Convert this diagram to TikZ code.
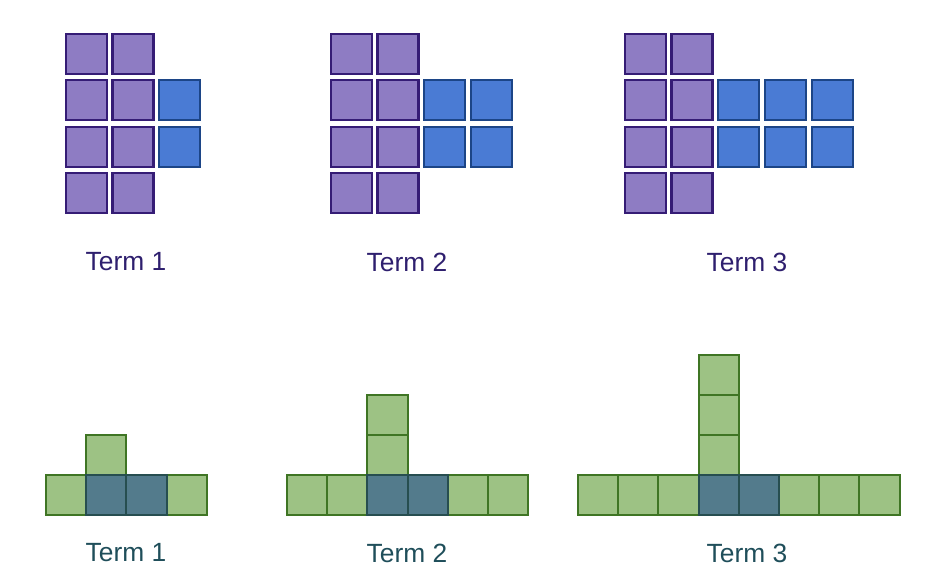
\documentclass[tikz,border=0pt]{standalone}
\usepackage{fontspec}
\setmainfont{Liberation Sans}
\definecolor{purplefill}{HTML}{8E7CC3}
\definecolor{purpleline}{HTML}{351C75}
\definecolor{bluefill}{HTML}{4A7BD4}
\definecolor{blueline}{HTML}{1C4587}
\definecolor{greenfill}{HTML}{9DC284}
\definecolor{greenline}{HTML}{3F7524}
\definecolor{tealfill}{HTML}{537B8C}
\definecolor{tealline}{HTML}{274E50}
\definecolor{toplabel}{HTML}{2E1F6E}
\definecolor{botlabel}{HTML}{1F4E5A}
\begin{document}
\begin{tikzpicture}[x=0.02cm,y=-0.02cm]
	\tikzstyle{purple} = [fill=purplefill, draw=purpleline, line width=1.2pt]
	\tikzstyle{blue} = [fill=bluefill, draw=blueline, line width=1.2pt]
	\tikzstyle{green} = [fill=greenfill, draw=greenline, line width=1.2pt]
	\tikzstyle{teal} = [fill=tealfill, draw=tealline, line width=1.2pt]
	\tikzstyle{Label} = [font=\fontsize{15}{18}\selectfont]
	\useasboundingbox (0,0) rectangle (945,585);
	
	% top patterns
	\foreach \x/\n in {66/1, 331/2, 625/3} {
		\foreach \i in {0,1} \foreach \j in {0,...,3}
			\draw [purple] (\x+46.5*\i, 34+46.3*\j) rectangle ++(41,40);
		\foreach \i in {1,...,\n} \foreach \j in {1,2}
			\draw [blue] (\x+46.5+46.7*\i, 34+46.3*\j) rectangle ++(41,40);
	}
	\node (t1) [Label, text=toplabel] at (126,262) {Term 1};
	\node (t2) [Label, text=toplabel] at (407,262) {Term 2};
	\node (t3) [Label, text=toplabel] at (747,262) {Term 3};
	
	% bottom patterns
	\foreach \x/\n in {46/1, 287/2, 578/3} {
		\foreach \i in {1,...,\n} {
			\draw [green] (\x+40.2*\i-40.2, 475) rectangle ++(40.2,40);
			\draw [green] (\x+40.2*\i+80.4+40.2*\n-40.2*\i+40.2*\i-40.2, 475) rectangle ++(40.2,40);
			\draw [green] (\x+40.2*\n, 475-40*\i) rectangle ++(40.2,40);
		}
		\draw [teal] (\x+40.2*\n, 475) rectangle ++(40.2,40);
		\draw [teal] (\x+40.2*\n+40.2, 475) rectangle ++(40.2,40);
	}
	\node (b1) [Label, text=botlabel] at (126,553) {Term 1};
	\node (b2) [Label, text=botlabel] at (407,553) {Term 2};
	\node (b3) [Label, text=botlabel] at (747,553) {Term 3};
\end{tikzpicture}
\end{document}
